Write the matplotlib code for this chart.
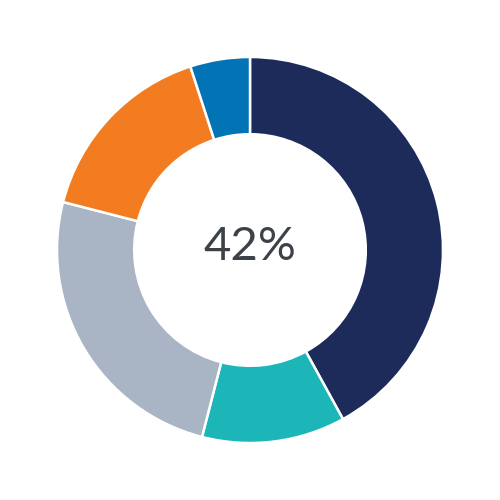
import matplotlib
matplotlib.use("Agg")
import matplotlib.pyplot as plt

labels = ["Navy", "Teal", "Gray", "Orange", "Blue"]
values = [42, 12, 25, 16, 5]
colors = ["#1c2b5a", "#1cb5b8", "#a9b4c4", "#f47c20", "#0273b5"]
center_text = "42%"

fig = plt.figure(figsize=(5, 5), dpi=100)
ax = fig.add_axes([0, 0, 1, 1])
ax.pie(values, colors=colors, startangle=90, counterclock=False,
       radius=1.0,
       wedgeprops=dict(width=0.4, edgecolor="white", linewidth=1.8))
lim = 250 / 193
ax.set_xlim(-lim, lim)
ax.set_ylim(-lim, lim)
ax.set_aspect("equal")
ax.axis("off")
ax.text(0, 0.015, center_text, ha="center", va="center", fontsize=34,
        family=["Lato", "DejaVu Sans"], fontweight="normal", color="#3d4148")
fig.savefig("out.png", dpi=100, facecolor="white")
